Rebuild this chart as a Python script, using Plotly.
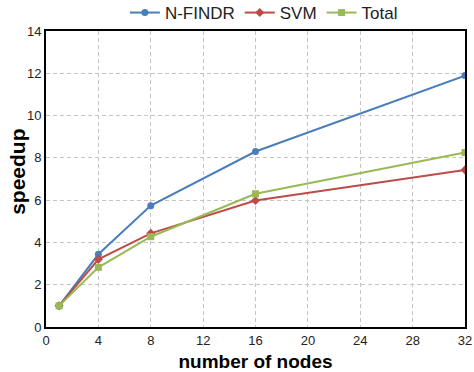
import plotly.graph_objects as go

nodes = [1, 4, 8, 16, 32]
nfindr = [1.0, 3.44, 5.74, 8.3, 11.89]
svm = [1.0, 3.2, 4.43, 5.98, 7.43]
total = [1.0, 2.82, 4.27, 6.3, 8.25]

x_ticks = [0, 4, 8, 12, 16, 20, 24, 28, 32]
y_ticks = [0, 2, 4, 6, 8, 10, 12, 14]

fig = go.Figure()
series = [
    ("N-FINDR", nfindr, "#4A7EBB", "circle"),
    ("SVM", svm, "#BE4B48", "diamond"),
    ("Total", total, "#98B954", "square"),
]
for name, vals, col, sym in series:
    fig.add_trace(go.Scatter(
        x=nodes, y=vals, name=name, mode="lines+markers",
        line=dict(color=col, width=2),
        marker=dict(color=col, symbol=sym, size=7),
    ))

axis_common = dict(
    showline=True, linecolor="black", linewidth=2, mirror=True,
    showgrid=True, gridcolor="#C4C4C4", griddash="4px,3px", gridwidth=1,
    zeroline=False, ticks="", tickfont=dict(size=13, color="#222"),
    automargin=False,
)
fig.update_xaxes(range=[0, 32], tickvals=x_ticks,
                 title=dict(text="<b>number of nodes</b>", font=dict(size=19, color="black"), standoff=10),
                 **axis_common)
fig.update_yaxes(range=[0, 14], tickvals=y_ticks, **axis_common)

fig.add_annotation(text="<b>speedup</b>", textangle=-90, xref="paper", yref="paper",
                   x=-0.067, y=0.524, xanchor="center", yanchor="middle", showarrow=False,
                   font=dict(size=21, color="black"))

fig.update_layout(
    width=474, height=372,
    margin=dict(l=46, r=9, t=31, b=45, autoexpand=False),
    plot_bgcolor="white", paper_bgcolor="white",
    font=dict(family="Liberation Sans, Arial, sans-serif"),
    legend=dict(orientation="h", x=0.52, xanchor="center", y=1.0, yanchor="bottom",
                font=dict(size=17, color="#222"), itemwidth=30, tracegroupgap=0,
                bgcolor="rgba(0,0,0,0)"),
)
fig.write_html("out.html", config={"displayModeBar": False},
               post_script="document.body.style.margin='0';document.body.style.overflow='hidden';")
